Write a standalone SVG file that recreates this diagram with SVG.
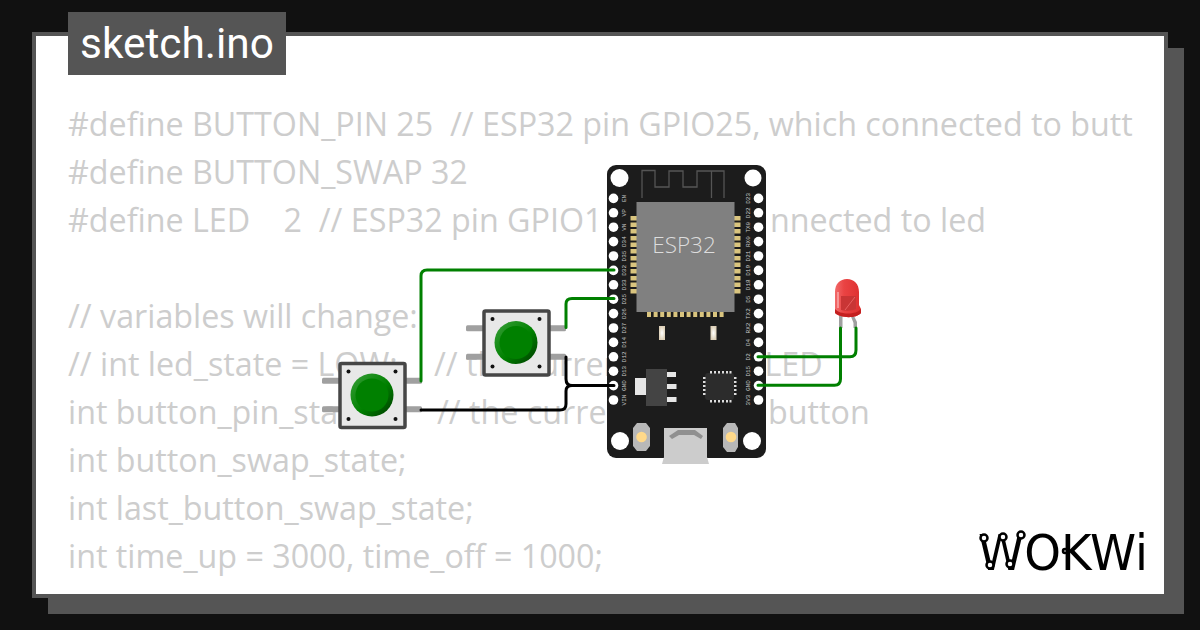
<svg xmlns="http://www.w3.org/2000/svg" width="1200" height="630" viewBox="0 0 1200 630">
<defs>
<style>
.code{font-family:"Open Sans","Noto Sans",sans-serif;font-size:32.250px;fill:#cdcdcd}
.pl{font-family:"Liberation Mono","DejaVu Sans Mono",monospace;font-size:6px;fill:#c8c8c8;text-anchor:middle}
.hole{fill:#fff}
.mount{fill:#fff}
.gold{fill:#d9c47e}
.wg{fill:none;stroke:#008000;stroke-width:3;stroke-linecap:round}
.wk{fill:none;stroke:#000;stroke-width:3;stroke-linecap:round}
.pin{fill:#a0a0a0}
</style>
<radialGradient id="cap" cx="50%" cy="50%" r="50%"><stop offset="0" stop-color="#ffffff"/><stop offset="1" stop-color="#ddd0b8"/></radialGradient>
<linearGradient id="btnG" x1="0" y1="0" x2="1" y2="1"><stop offset="0" stop-color="#3aa03a"/><stop offset=".55" stop-color="#008000"/><stop offset="1" stop-color="#003a00"/></linearGradient>
<linearGradient id="ledG" x1="0" y1="0" x2="1" y2="0"><stop offset="0" stop-color="#f26a6a"/><stop offset=".35" stop-color="#ea4343"/><stop offset="1" stop-color="#dd3030"/></linearGradient>
<g id="button">
<rect x="-50" y="-17.300" width="18" height="6" rx="1.500" class="pin"/>
<rect x="-50" y="11.300" width="18" height="6" rx="1.500" class="pin"/>
<rect x="32" y="-17.300" width="18" height="6" rx="1.500" class="pin"/>
<rect x="32" y="11.300" width="18" height="6" rx="1.500" class="pin"/>
<rect x="-32" y="-31.500" width="65" height="64" rx="1.500" fill="#e8e8e8" stroke="#464646" stroke-width="3.500"/>
<circle cx="-23.500" cy="-23.500" r="2" fill="#111"/><circle cx="23.500" cy="-23.500" r="2" fill="#111"/>
<circle cx="-23.500" cy="24" r="2" fill="#111"/><circle cx="23.500" cy="24" r="2" fill="#111"/>
<circle cx="0" cy="0" r="21.500" fill="url(#btnG)"/>
<circle cx="0" cy="0" r="16.500" fill="#008000"/>
</g>
</defs>
<rect width="1200" height="630" fill="#111111"/>
<rect x="48" y="48" width="1136" height="566" fill="#555555"/>
<rect x="34" y="34" width="1132" height="562" fill="#ffffff" stroke="#555555" stroke-width="4"/>
<g id="title"><rect x="68" y="12" width="218" height="63" fill="#555555"/>
<text x="80" y="57.500" font-family="Roboto,'Liberation Sans',sans-serif" font-size="42.400" fill="#ffffff">sketch.ino</text></g>
<g id="code">
<text class="code" x="68" y="136" xml:space="preserve">#define BUTTON_PIN 25  // ESP32 pin GPIO25, which connected to butt</text>
<text class="code" x="68" y="184">#define BUTTON_SWAP 32</text>
<text class="code" x="68" y="232" xml:space="preserve">#define LED    2  // ESP32 pin GPIO1</text>
<text class="code" x="986" y="232" text-anchor="end">nnected to led</text>
<text class="code" x="68" y="328">// variables will change:</text>
<text class="code" x="68" y="376">// int led_state = LOW;<tspan x="434">// the current state of LED</tspan></text>
<text class="code" x="68" y="424">int button_pin_state;<tspan x="437">// the current state of</tspan><tspan x="768">button</tspan></text>
<text class="code" x="68" y="472">int button_swap_state;</text>
<text class="code" x="68" y="520">int last_button_swap_state;</text>
<text class="code" x="68" y="568">int time_up = 3000, time_off = 1000;</text>
</g>
<g id="esp32">
<rect x="607" y="165" width="159" height="293" rx="9" fill="#1c1c1c"/>
<g class="mount"><circle cx="619.500" cy="178" r="9"/><circle cx="753" cy="178" r="8.500"/><circle cx="620" cy="441" r="9"/><circle cx="752" cy="441" r="9"/></g>
<path d="M642 198V170.500H655V187H669V171H683V187H697V171H724V198M711.500 171V198" fill="none" stroke="#555555" stroke-width="1.300"/>
<g class="gold">
<rect x="630.500" y="216" width="6.500" height="4.500"/><rect x="630.500" y="222.500" width="6.500" height="4.500"/><rect x="630.500" y="229" width="6.500" height="4.500"/><rect x="630.500" y="236" width="6.500" height="4.500"/><rect x="630.500" y="242.500" width="6.500" height="4.500"/><rect x="630.500" y="249" width="6.500" height="4.500"/><rect x="630.500" y="256" width="6.500" height="4.500"/><rect x="630.500" y="262.500" width="6.500" height="4.500"/><rect x="630.500" y="269" width="6.500" height="4.500"/><rect x="630.500" y="276" width="6.500" height="4.500"/><rect x="630.500" y="282.500" width="6.500" height="4.500"/><rect x="630.500" y="289" width="6.500" height="4.500"/>
<rect x="734" y="216" width="6.500" height="4.500"/><rect x="734" y="222.500" width="6.500" height="4.500"/><rect x="734" y="229" width="6.500" height="4.500"/><rect x="734" y="236" width="6.500" height="4.500"/><rect x="734" y="242.500" width="6.500" height="4.500"/><rect x="734" y="249" width="6.500" height="4.500"/><rect x="734" y="256" width="6.500" height="4.500"/><rect x="734" y="262.500" width="6.500" height="4.500"/><rect x="734" y="269" width="6.500" height="4.500"/><rect x="734" y="276" width="6.500" height="4.500"/><rect x="734" y="282.500" width="6.500" height="4.500"/><rect x="734" y="289" width="6.500" height="4.500"/>
<rect x="647" y="311" width="4" height="6"/><rect x="653.600" y="311" width="4" height="6"/><rect x="660.200" y="311" width="4" height="6"/><rect x="666.800" y="311" width="4" height="6"/><rect x="673.400" y="311" width="4" height="6"/><rect x="680" y="311" width="4" height="6"/><rect x="686.600" y="311" width="4" height="6"/><rect x="693.200" y="311" width="4" height="6"/><rect x="699.800" y="311" width="4" height="6"/><rect x="706.400" y="311" width="4" height="6"/><rect x="713" y="311" width="4" height="6"/><rect x="719.600" y="311" width="4" height="6"/>
</g>
<rect x="636.500" y="202" width="98" height="110" fill="#808080"/>
<text x="684" y="252.500" font-family="'Open Sans','Noto Sans',sans-serif" font-weight="300" font-size="22.500" fill="#dddddd" text-anchor="middle">ESP32</text>
<rect x="659" y="326" width="6" height="14" fill="url(#cap)"/>
<rect x="710.500" y="326" width="6" height="14" fill="url(#cap)"/>
<rect x="635" y="378" width="12" height="17" fill="#e6e6e6"/>
<rect x="667" y="372" width="9" height="5" fill="#e6e6e6"/><rect x="667" y="384" width="9.500" height="5" fill="#e6e6e6"/><rect x="667" y="397" width="9.500" height="5" fill="#e6e6e6"/>
<rect x="646" y="369" width="21" height="37" fill="#444444"/>
<rect x="705" y="373" width="29" height="27" rx="3" fill="#2c2c2c"/>
<g fill="#dddddd">
<rect x="710" y="371" width="2" height="2.500"/><rect x="714" y="371" width="2" height="2.500"/><rect x="718" y="371" width="2" height="2.500"/><rect x="722" y="371" width="2" height="2.500"/><rect x="726" y="371" width="2" height="2.500"/><rect x="729.500" y="371" width="2" height="2.500"/>
<rect x="710" y="400" width="2" height="2.500"/><rect x="714" y="400" width="2" height="2.500"/><rect x="718" y="400" width="2" height="2.500"/><rect x="722" y="400" width="2" height="2.500"/><rect x="726" y="400" width="2" height="2.500"/><rect x="729.500" y="400" width="2" height="2.500"/>
<rect x="703" y="377" width="2.500" height="2"/><rect x="703" y="381" width="2.500" height="2"/><rect x="703" y="385" width="2.500" height="2"/><rect x="703" y="389" width="2.500" height="2"/><rect x="703" y="393" width="2.500" height="2"/>
<rect x="734" y="377" width="2.500" height="2"/><rect x="734" y="381" width="2.500" height="2"/><rect x="734" y="385" width="2.500" height="2"/><rect x="734" y="389" width="2.500" height="2"/><rect x="734" y="393" width="2.500" height="2"/>
</g>
<path d="M637 423H646L650 428V446L646 451H637L633 446V428Z" fill="#b8b8b8"/><circle cx="641.500" cy="437" r="5.300" fill="#ffd98a"/>
<path d="M727 423H735L738 428V447L735 452H727L723 447V428Z" fill="#b8b8b8"/><circle cx="731" cy="437" r="5.300" fill="#ffd98a"/>
<path d="M664 428H707V457L709 464H662L664 457Z" fill="#cccccc"/>
<path d="M669 436L678 430H695L703 436L701 439L694 435H679L672 439Z" fill="#909090"/>
<g class="hole">
<circle cx="613.500" cy="198.400" r="4.800"/><circle cx="613.500" cy="212.800" r="4.800"/><circle cx="613.500" cy="227.200" r="4.800"/><circle cx="613.500" cy="241.600" r="4.800"/><circle cx="613.500" cy="256" r="4.800"/><circle cx="613.500" cy="270.400" r="4.800"/><circle cx="613.500" cy="284.800" r="4.800"/><circle cx="613.500" cy="299.200" r="4.800"/><circle cx="613.500" cy="313.600" r="4.800"/><circle cx="613.500" cy="328" r="4.800"/><circle cx="613.500" cy="342.400" r="4.800"/><circle cx="613.500" cy="356.800" r="4.800"/><circle cx="613.500" cy="371.200" r="4.800"/><circle cx="613.500" cy="385.600" r="4.800"/><circle cx="613.500" cy="400" r="4.800"/>
<circle cx="758.500" cy="198.400" r="4.800"/><circle cx="758.500" cy="212.800" r="4.800"/><circle cx="758.500" cy="227.200" r="4.800"/><circle cx="758.500" cy="241.600" r="4.800"/><circle cx="758.500" cy="256" r="4.800"/><circle cx="758.500" cy="270.400" r="4.800"/><circle cx="758.500" cy="284.800" r="4.800"/><circle cx="758.500" cy="299.200" r="4.800"/><circle cx="758.500" cy="313.600" r="4.800"/><circle cx="758.500" cy="328" r="4.800"/><circle cx="758.500" cy="342.400" r="4.800"/><circle cx="758.500" cy="356.800" r="4.800"/><circle cx="758.500" cy="371.200" r="4.800"/><circle cx="758.500" cy="385.600" r="4.800"/><circle cx="758.500" cy="400" r="4.800"/>
</g>
<g class="pl">
<text transform="translate(625.500,198.400) rotate(-90)">EN</text><text transform="translate(625.500,212.800) rotate(-90)">VP</text><text transform="translate(625.500,227.200) rotate(-90)">VN</text><text transform="translate(625.500,241.600) rotate(-90)">D34</text><text transform="translate(625.500,256) rotate(-90)">D35</text><text transform="translate(625.500,270.400) rotate(-90)">D32</text><text transform="translate(625.500,284.800) rotate(-90)">D33</text><text transform="translate(625.500,299.200) rotate(-90)">D25</text><text transform="translate(625.500,313.600) rotate(-90)">D26</text><text transform="translate(625.500,328) rotate(-90)">D27</text><text transform="translate(625.500,342.400) rotate(-90)">D14</text><text transform="translate(625.500,356.800) rotate(-90)">D12</text><text transform="translate(625.500,371.200) rotate(-90)">D13</text><text transform="translate(625.500,385.600) rotate(-90)">GND</text><text transform="translate(625.500,400) rotate(-90)">VIN</text>
<text transform="translate(750,198.400) rotate(-90)">D23</text><text transform="translate(750,212.800) rotate(-90)">D22</text><text transform="translate(750,227.200) rotate(-90)">TX0</text><text transform="translate(750,241.600) rotate(-90)">RX0</text><text transform="translate(750,256) rotate(-90)">D21</text><text transform="translate(750,270.400) rotate(-90)">D19</text><text transform="translate(750,284.800) rotate(-90)">D18</text><text transform="translate(750,299.200) rotate(-90)">D5</text><text transform="translate(750,313.600) rotate(-90)">TX2</text><text transform="translate(750,328) rotate(-90)">RX2</text><text transform="translate(750,342.400) rotate(-90)">D4</text><text transform="translate(750,356.800) rotate(-90)">D2</text><text transform="translate(750,371.200) rotate(-90)">D15</text><text transform="translate(750,385.600) rotate(-90)">GND</text><text transform="translate(750,400) rotate(-90)">3V3</text>
</g>
</g>
<use id="button1" href="#button" x="372" y="395"/>
<use id="button2" href="#button" x="516" y="342.500"/>
<g id="led1">
<rect x="839" y="314" width="3.500" height="14" fill="#a0a0a0"/>
<path d="M850 314H853L857 322V328H853.500V323Z" fill="#a0a0a0"/>
<path d="M835 313V292C835 284 840 279 847 279C854 279 859 284 859 292V305L861 309V313C856 319 840 318 835 313Z" fill="url(#ledG)"/>
<path d="M835 309C840 315 856 315 861 309V313C856 319 840 318 835 313Z" fill="#c42020"/>
<path d="M841 296H856V309C852 311 846 311 841 310Z" fill="#c93535"/>
<path d="M845 310L855 297" stroke="#e86060" stroke-width="1" fill="none"/>
<path d="M838 292V308" stroke="#f8a8a8" stroke-width="1.500" fill="none"/>
</g>
<g id="connectors">
<path class="wg" d="M421 381V276Q421 270 427 270H614"/>
<path class="wg" d="M566 327.500V304Q566 298.500 572 298.500H614"/>
<path class="wk" d="M421 410H560Q566 410 566 404V391Q566 385.500 572 385.500H614"/>
<path class="wk" d="M566 357V379Q566 385.500 572 385.500"/>
<path class="wg" d="M758 356.800H850Q856 356.800 856 350V328"/>
<path class="wg" d="M758 385.200H834.500Q840.500 385.200 840.500 379V328"/>
</g>
<g id="wokwi">
<text x="978" y="570" font-family="'DejaVu Sans',sans-serif" font-size="50" textLength="170" lengthAdjust="spacingAndGlyphs" fill="#000000">WOKWi</text>
<g fill="#fff" stroke="#000" stroke-width="2.500"><circle cx="984" cy="538" r="3.500"/><circle cx="1003" cy="537" r="3.500"/><circle cx="1021" cy="535" r="3.500"/><circle cx="990" cy="565" r="3.500"/><circle cx="1010" cy="564" r="3.500"/><circle cx="1065" cy="551" r="2"/></g>
</g>
</svg>
